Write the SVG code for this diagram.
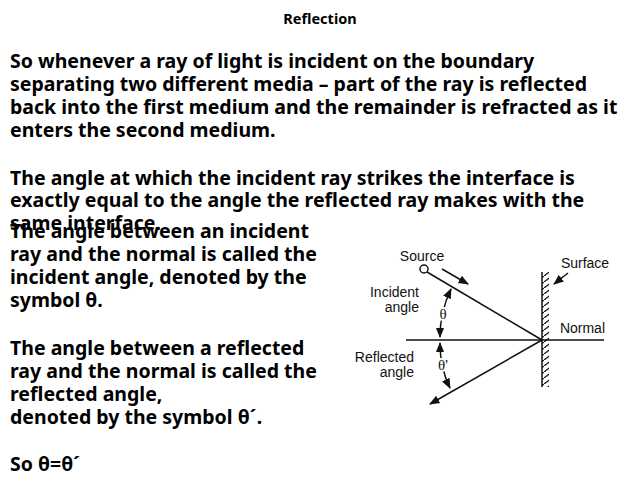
<svg xmlns="http://www.w3.org/2000/svg" width="638" height="478" viewBox="0 0 638 478">
<style>
.t{font-family:"Noto Sans","Open Sans",sans-serif;font-weight:bold;font-size:19.5px;fill:#000}
.l{font-family:"Liberation Sans",Arial,sans-serif;font-size:14px;fill:#111}
.g{font-family:"Liberation Serif",serif;font-size:15px;fill:#111;stroke:#fff;stroke-width:4;paint-order:stroke}
.ln{stroke:#111;stroke-width:1.5;fill:none}
</style>
<defs>
<marker id="a" viewBox="0 0 10 10" refX="9" refY="5" markerWidth="7" markerHeight="7" orient="auto-start-reverse"><path d="M0,1 L10,5 L0,9 z" fill="#111"/></marker>
<pattern id="h" width="8" height="6" patternUnits="userSpaceOnUse"><path d="M0,6 L8,0" stroke="#111" stroke-width="1.3"/></pattern>
</defs>
<rect width="638" height="478" fill="#fff"/>
<g id="text">
<text x="320" y="24" text-anchor="middle" class="t" style="font-size:14.5px">Reflection</text>
<text class="t" x="10" y="68">So whenever a ray of light is incident on the boundary</text>
<text class="t" x="10" y="91">separating two different media – part of the ray is reflected</text>
<text class="t" x="10" y="114">back into the first medium and the remainder is refracted as it</text>
<text class="t" x="10" y="137">enters the second medium.</text>
<text class="t" x="10" y="185">The angle at which the incident ray strikes the interface is</text>
<text class="t" x="10" y="207">exactly equal to the angle the reflected ray makes with the</text>
<text class="t" x="10" y="230">same interface.</text>
<text class="t" x="10" y="238">The angle between an incident</text>
<text class="t" x="10" y="261">ray and the normal is called the</text>
<text class="t" x="10" y="284">incident angle, denoted by the</text>
<text class="t" x="10" y="307">symbol θ.</text>
<text class="t" x="10" y="355">The angle between a reflected</text>
<text class="t" x="10" y="378">ray and the normal is called the</text>
<text class="t" x="10" y="401">reflected angle,</text>
<text class="t" x="10" y="424">denoted by the symbol θ´.</text>
<text class="t" x="10" y="471">So θ=θ´</text>
</g>
<g id="surface">
<rect x="542" y="272" width="7" height="115" fill="url(#h)"/>
<line class="ln" x1="542" y1="272" x2="542" y2="387"/>
</g>
<g id="source"><circle cx="424" cy="269" r="4" fill="#fff" stroke="#111" stroke-width="1.5"/></g>
<g id="connectors">
<line class="ln" x1="406" y1="340" x2="604" y2="340"/>
<line class="ln" x1="427" y1="272" x2="542" y2="340"/>
<line class="ln" x1="542" y1="340" x2="430" y2="404" marker-end="url(#a)"/>
<line class="ln" x1="442" y1="269" x2="468" y2="284" marker-end="url(#a)"/>
<line class="ln" x1="568" y1="273" x2="554" y2="284" marker-end="url(#a)"/>
<path class="ln" d="M451,289 Q440,312 440,337" marker-start="url(#a)" marker-end="url(#a)"/>
<path class="ln" d="M440,343 Q440,368 450,388" marker-start="url(#a)" marker-end="url(#a)"/>
</g>
<g id="labels">
<text class="l" x="422" y="261" text-anchor="middle">Source</text>
<text class="l" x="585" y="268" text-anchor="middle">Surface</text>
<text class="l" x="419" y="297" text-anchor="end">Incident</text>
<text class="l" x="419" y="312" text-anchor="end">angle</text>
<text class="g" x="443" y="319" text-anchor="middle">θ</text>
<text class="l" x="605" y="333" text-anchor="end">Normal</text>
<text class="l" x="414" y="362" text-anchor="end">Reflected</text>
<text class="l" x="414" y="377" text-anchor="end">angle</text>
<text class="g" x="443" y="370" text-anchor="middle">θ'</text>
</g>
</svg>
